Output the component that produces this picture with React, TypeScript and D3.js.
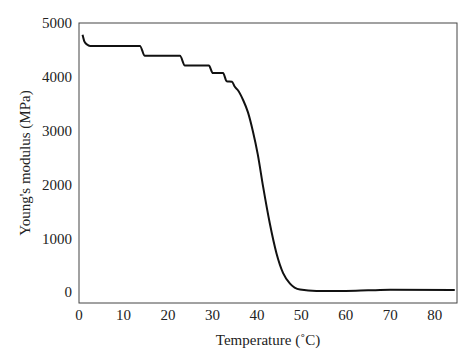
import React from "react";
import * as d3 from "d3";

// Temperature (°C) vs Young's modulus (MPa)
const temperatures = [
  0.8, 1.2, 1.8, 2.5, 13.7, 14.8, 22.7, 23.8, 29.2, 30.1, 32.4, 33.2, 34.4,
  35.0, 35.7, 36.9, 38.0, 39.1, 40.2, 41.4, 42.9, 44.4, 45.9, 47.4, 49.7, 53.4,
  60, 65, 70, 84.5,
];
const modulus = [
  4780, 4660, 4600, 4575, 4575, 4390, 4390, 4210, 4210, 4070, 4070, 3920, 3910,
  3820, 3755, 3570, 3340, 2990, 2560, 1960, 1280, 725, 355, 165, 50, 25, 25, 35,
  45, 40,
];
const xTicks = [0, 10, 20, 30, 40, 50, 60, 70, 80];
const yTicks = [0, 1000, 2000, 3000, 4000, 5000];

const width = 474;
const height = 364;
const margin = { top: 23, right: 17, bottom: 61, left: 79 };

const App: React.FC = () => {
  const x = d3
    .scaleLinear()
    .domain([0, 85])
    .range([margin.left, width - margin.right]);
  const y = d3
    .scaleLinear()
    .domain([-200, 5000])
    .range([height - margin.bottom, margin.top]);

  const points = temperatures.map((t, i) => [t, modulus[i]] as [number, number]);

  const line = d3
    .line<[number, number]>()
    .x((d) => x(d[0]))
    .y((d) => y(d[1]))
    .curve(d3.curveMonotoneX);

  const font = "'Liberation Serif', 'Times New Roman', serif";

  return (
    <svg
      width={width}
      height={height}
      style={{ position: "absolute", left: 0, top: 0, background: "#fff" }}
    >
      {/* plot frame */}
      <rect
        x={margin.left}
        y={margin.top}
        width={width - margin.left - margin.right}
        height={height - margin.top - margin.bottom}
        fill="none"
        stroke="#444"
        strokeWidth={1}
      />

      {/* y tick labels */}
      {yTicks.map((v) => (
        <text
          key={v}
          x={margin.left - 7}
          y={y(v)}
          dy="0.35em"
          textAnchor="end"
          fontFamily={font}
          fontSize={15}
          fill="#222"
        >
          {v}
        </text>
      ))}

      {/* x tick labels */}
      {xTicks.map((v) => (
        <text
          key={v}
          x={x(v)}
          y={height - margin.bottom + 12}
          dy="0.35em"
          textAnchor="middle"
          fontFamily={font}
          fontSize={15}
          fill="#222"
        >
          {v}
        </text>
      ))}

      {/* curve */}
      <path
        d={line(points) ?? ""}
        fill="none"
        stroke="#111"
        strokeWidth={2}
        strokeLinejoin="round"
      />

      {/* axis titles */}
      <text
        x={(margin.left + width - margin.right) / 2}
        y={340}
        dy="0.35em"
        textAnchor="middle"
        fontFamily={font}
        fontSize={15}
        fill="#222"
      >
        Temperature (˚C)
      </text>
      <text
        transform={`translate(25, ${(margin.top + height - margin.bottom) / 2}) rotate(-90)`}
        dy="0.35em"
        textAnchor="middle"
        fontFamily={font}
        fontSize={15}
        fill="#222"
      >
        Young's modulus (MPa)
      </text>
    </svg>
  );
};

export default App;
